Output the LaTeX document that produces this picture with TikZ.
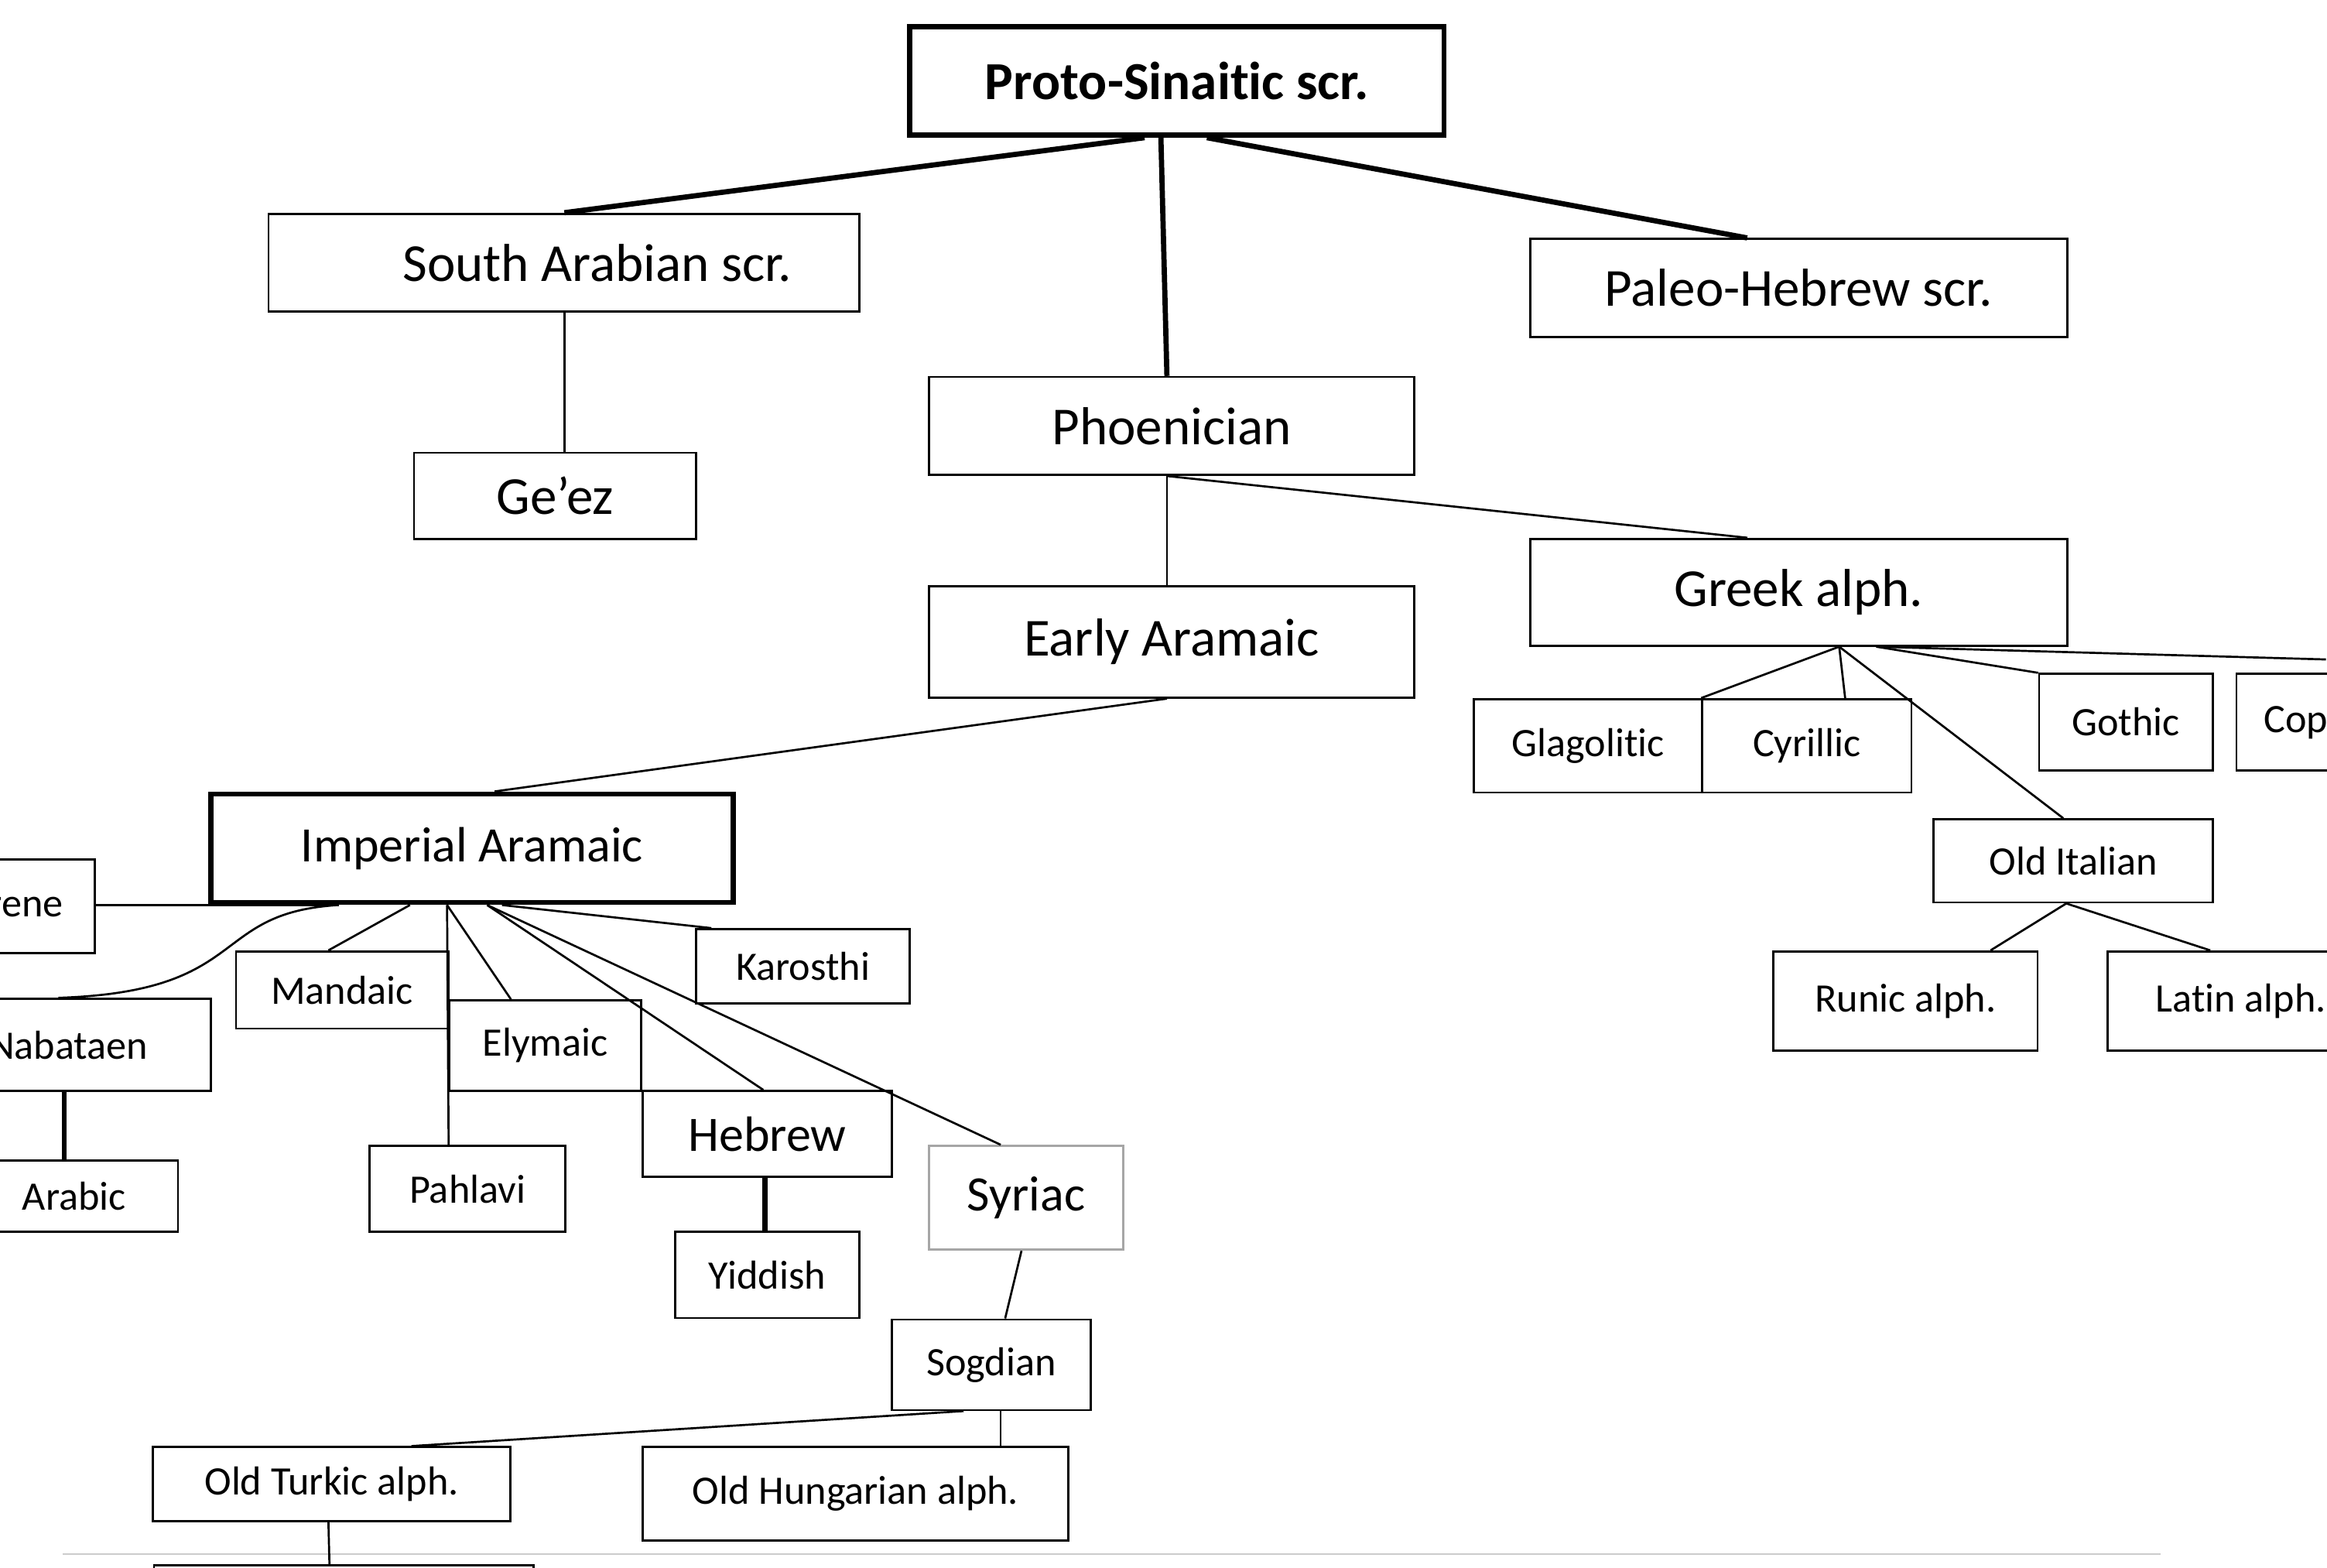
\documentclass[tikz,border=0pt]{standalone}
\usepackage{fontspec}
\setmainfont[Ligatures={NoCommon}]{Carlito}
\usetikzlibrary{calc}
\newcommand\bx[7][]{\node[box,#1,minimum width={(#5-#3)*0.02cm},minimum height={(#6-#4)*0.02cm}] (#2) at ({(#3+#5)/2},{(#4+#6)/2}) {#7};}
\tikzset{box/.style={draw,line width=0.8pt,inner sep=0pt,font=\fontsize{15.5}{18}\selectfont},
 big/.style={font=\fontsize{20.5}{24}\selectfont},
 mid/.style={font=\fontsize{19}{22}\selectfont},
 thk/.style={line width=2pt},
 ln/.style={line width=0.8pt}}
\begin{document}
\begin{tikzpicture}[x=0.02cm,y=-0.02cm]
\useasboundingbox (0,0) rectangle (1568,1056);
\clip (0,0) rectangle (1568,1056);
\bx[line width=2pt,font=\fontsize{20.5}{24}\selectfont\bfseries]{proto}{613}{18}{973}{91}{Proto-Sinaitic scr.}
\bx[big]{south}{181}{144}{579}{210}{\hspace{0.9cm}South Arabian scr.}
\bx[big]{paleo}{1031}{161}{1393}{227}{Paleo-Hebrew scr.}
\bx[big]{phoen}{626}{254}{953}{320}{Phoenician}
\bx[big]{geez}{279}{305}{469}{363}{Ge{\char39}ez}
\bx[big]{greek}{1031}{363}{1393}{435}{Greek alph.}
\bx[big]{early}{626}{395}{953}{470}{Early Aramaic}
\bx{glag}{993}{471}{1147}{534}{Glagolitic}
\bx{cyr}{1147}{471}{1288}{534}{Cyrillic}
\bx{goth}{1374}{454}{1491}{519}{Gothic}
\bx{copt}{1507}{454}{1614}{519}{Coptic}
\bx{oital}{1303}{552}{1491}{608}{Old Italian}
\bx{runic}{1195}{641}{1373}{708}{Runic alph.}
\bx{latin}{1420}{641}{1600}{708}{Latin alph.}
\bx[mid,line width=2pt]{imp}{142}{535}{494}{608}{Imperial Aramaic}
\bx{palm}{-96}{579}{64}{642}{Palmyrene}
\bx{karo}{469}{626}{613}{676}{Karosthi}
\bx{mand}{159}{641}{302}{693}{Mandaic}
\bx{elym}{303}{674}{432}{735}{Elymaic}
\bx{nab}{-50}{673}{142}{735}{Nabataen}
\bx{arab}{-20}{782}{120}{830}{Arabic}
\bx{pahl}{249}{772}{381}{830}{Pahlavi}
\bx[mid]{hebr}{433}{735}{601}{793}{Hebrew}
\bx[mid,draw=gray!70]{syr}{626}{772}{757}{842}{Syriac}
\bx{yidd}{455}{830}{579}{888}{Yiddish}
\bx{sogd}{601}{889}{735}{950}{Sogdian}
\bx{oturk}{103}{975}{344}{1025}{Old Turkic alph.}
\bx{ohung}{433}{975}{720}{1038}{Old Hungarian alph.}
\node[draw,line width=0.8pt,minimum width={256*0.02cm},minimum height=1cm,anchor=north west] (nextb) at (103,1054) {};
\draw[gray!40,line width=0.5pt] (42,1047) -- (1456,1047);
% connectors
\draw[thk] ($(proto.south west)+(160,0)$) -- ($(south.north west)+(200,0)$);
\draw[thk] ($(proto.south west)+(171,0)$) -- ($(phoen.north west)+(161,0)$);
\draw[thk] ($(proto.south west)+(202,0)$) -- ($(paleo.north west)+(147,0)$);
\draw[ln] ($(south.south west)+(200,0)$) -- ($(geez.north west)+(102,0)$);
\draw[ln] ($(phoen.south west)+(161,0)$) -- ($(early.north west)+(161,0)$);
\draw[ln] ($(phoen.south west)+(161,0)$) -- ($(greek.north west)+(147,0)$);
\coordinate (g1) at ($(greek.south west)+(209,0)$);
\coordinate (g2) at ($(greek.south west)+(234,0)$);
\draw[ln] (g1) -- (cyr.north west);
\draw[ln] (g1) -- ($(cyr.north west)+(97,0)$);
\draw[ln] (g1) -- ($(oital.north west)+(88,0)$);
\draw[ln] (g2) -- (goth.north west);
\draw[ln] (g2) -- ($(copt.north west)+(61,-9)$);
\draw[ln] ($(oital.south west)+(90,0)$) -- ($(runic.north west)+(147,0)$);
\draw[ln] ($(oital.south west)+(90,0)$) -- ($(latin.north west)+(70,0)$);
\draw[ln] ($(early.south west)+(161,0)$) -- ($(imp.north west)+(193,0)$);
\coordinate (i0) at ($(imp.south west)+(88,0)$);
\draw[ln] (i0) -- (palm.south east |- i0);
\draw[ln] (i0) .. controls (140,615) and (170,668) .. ($(nab.north west)+(90,0)$);
\draw[ln] ($(imp.south west)+(136,0)$) -- ($(mand.north west)+(63,0)$);
\draw[ln] ($(imp.south west)+(161,0)$) -- ($(pahl.north west)+(54,0)$);
\draw[ln] ($(imp.south west)+(161,0)$) -- ($(elym.north west)+(42,0)$);
\draw[ln] ($(imp.south west)+(188,0)$) -- ($(hebr.north west)+(82,0)$);
\draw[ln] ($(imp.south west)+(188,0)$) -- ($(syr.north west)+(49,0)$);
\draw[ln] ($(imp.south west)+(198,0)$) -- ($(karo.north west)+(11,0)$);
\draw[thk] ($(nab.south west)+(94,0)$) -- ($(arab.north west)+(64,0)$);
\draw[thk] ($(hebr.south west)+(83,0)$) -- ($(yidd.north west)+(61,0)$);
\draw[ln] ($(syr.south west)+(63,0)$) -- ($(sogd.north west)+(77,0)$);
\draw[ln] ($(sogd.south west)+(49,0)$) -- ($(oturk.north west)+(175,0)$);
\draw[ln] ($(sogd.south west)+(74,0)$) -- ($(ohung.north west)+(242,0)$);
\draw[ln] ($(oturk.south west)+(119,0)$) -- ($(nextb.north west)+(119,0)$);
\end{tikzpicture}
\end{document}
